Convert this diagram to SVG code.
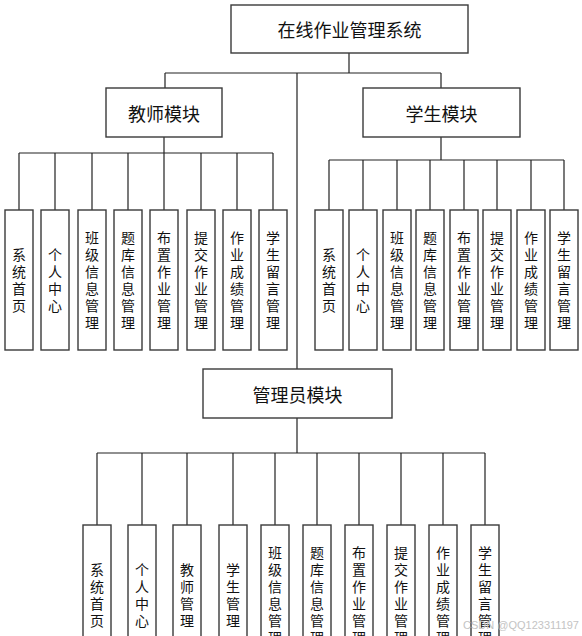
<svg xmlns="http://www.w3.org/2000/svg" width="582" height="636" viewBox="0 0 582 636">
<style>
.box{fill:#fff;stroke:#3a3a3a;stroke-width:1.4}
.ln{fill:none;stroke:#222;stroke-width:1.2}
.t{font-family:"Noto Sans CJK SC","Liberation Sans",sans-serif;fill:#111;text-anchor:middle;dominant-baseline:central}
.big{font-size:18px}
.sm{font-size:14px}
.wm{font-family:"Liberation Sans",sans-serif;font-size:11px;fill:#c4c4c4;text-anchor:end}
</style>
<rect width="582" height="636" fill="#fff"/>
<g id="connectors">
<path class="ln" d="M349 53V73M165 73H441M165 73V88M441 73V88M297 73V369"/>
<path class="ln" d="M164 137V153M19 153H273M19 153V210M55 153V210M92 153V210M128 153V210M164 153V210M201 153V210M237 153V210M273 153V210"/>
<path class="ln" d="M441 137V160M329 160H564M329 160V210M363 160V210M397 160V210M430 160V210M464 160V210M497 160V210M531 160V210M564 160V210"/>
<path class="ln" d="M297 418V453M97 453H485M97 453V525M142 453V525M187 453V525M233 453V525M275 453V525M317 453V525M359 453V525M401 453V525M443 453V525M485 453V525"/>
</g>
<g id="root"><rect class="box" x="231" y="5" width="237" height="48"/><text class="t big" x="349.5" y="29">在线作业管理系统</text></g>
<g id="teacher"><rect class="box" x="106" y="88" width="116" height="49"/><text class="t big" x="164" y="112.5">教师模块</text></g>
<g id="student"><rect class="box" x="363" y="88" width="157" height="49"/><text class="t big" x="441.5" y="112.5">学生模块</text></g>
<g id="admin"><rect class="box" x="203" y="369" width="189" height="49"/><text class="t big" x="297.5" y="393.5">管理员模块</text></g>

<g id="t1"><rect class="box" x="5" y="210" width="28" height="140"/><text class="t sm"><tspan x="19" y="253.5">系</tspan><tspan x="19" y="270.5">统</tspan><tspan x="19" y="287.5">首</tspan><tspan x="19" y="304.5">页</tspan></text></g>
<g id="t2"><rect class="box" x="41" y="210" width="28" height="140"/><text class="t sm"><tspan x="55" y="253.5">个</tspan><tspan x="55" y="270.5">人</tspan><tspan x="55" y="287.5">中</tspan><tspan x="55" y="304.5">心</tspan></text></g>
<g id="t3"><rect class="box" x="78" y="210" width="28" height="140"/><text class="t sm"><tspan x="92" y="236.5">班</tspan><tspan x="92" y="253.5">级</tspan><tspan x="92" y="270.5">信</tspan><tspan x="92" y="287.5">息</tspan><tspan x="92" y="304.5">管</tspan><tspan x="92" y="321.5">理</tspan></text></g>
<g id="t4"><rect class="box" x="114" y="210" width="28" height="140"/><text class="t sm"><tspan x="128" y="236.5">题</tspan><tspan x="128" y="253.5">库</tspan><tspan x="128" y="270.5">信</tspan><tspan x="128" y="287.5">息</tspan><tspan x="128" y="304.5">管</tspan><tspan x="128" y="321.5">理</tspan></text></g>
<g id="t5"><rect class="box" x="150" y="210" width="28" height="140"/><text class="t sm"><tspan x="164" y="236.5">布</tspan><tspan x="164" y="253.5">置</tspan><tspan x="164" y="270.5">作</tspan><tspan x="164" y="287.5">业</tspan><tspan x="164" y="304.5">管</tspan><tspan x="164" y="321.5">理</tspan></text></g>
<g id="t6"><rect class="box" x="187" y="210" width="28" height="140"/><text class="t sm"><tspan x="201" y="236.5">提</tspan><tspan x="201" y="253.5">交</tspan><tspan x="201" y="270.5">作</tspan><tspan x="201" y="287.5">业</tspan><tspan x="201" y="304.5">管</tspan><tspan x="201" y="321.5">理</tspan></text></g>
<g id="t7"><rect class="box" x="223" y="210" width="28" height="140"/><text class="t sm"><tspan x="237" y="236.5">作</tspan><tspan x="237" y="253.5">业</tspan><tspan x="237" y="270.5">成</tspan><tspan x="237" y="287.5">绩</tspan><tspan x="237" y="304.5">管</tspan><tspan x="237" y="321.5">理</tspan></text></g>
<g id="t8"><rect class="box" x="259" y="210" width="28" height="140"/><text class="t sm"><tspan x="273" y="236.5">学</tspan><tspan x="273" y="253.5">生</tspan><tspan x="273" y="270.5">留</tspan><tspan x="273" y="287.5">言</tspan><tspan x="273" y="304.5">管</tspan><tspan x="273" y="321.5">理</tspan></text></g>

<g id="s1"><rect class="box" x="315" y="210" width="28" height="140"/><text class="t sm"><tspan x="329" y="253.5">系</tspan><tspan x="329" y="270.5">统</tspan><tspan x="329" y="287.5">首</tspan><tspan x="329" y="304.5">页</tspan></text></g>
<g id="s2"><rect class="box" x="349" y="210" width="28" height="140"/><text class="t sm"><tspan x="363" y="253.5">个</tspan><tspan x="363" y="270.5">人</tspan><tspan x="363" y="287.5">中</tspan><tspan x="363" y="304.5">心</tspan></text></g>
<g id="s3"><rect class="box" x="383" y="210" width="28" height="140"/><text class="t sm"><tspan x="397" y="236.5">班</tspan><tspan x="397" y="253.5">级</tspan><tspan x="397" y="270.5">信</tspan><tspan x="397" y="287.5">息</tspan><tspan x="397" y="304.5">管</tspan><tspan x="397" y="321.5">理</tspan></text></g>
<g id="s4"><rect class="box" x="416" y="210" width="28" height="140"/><text class="t sm"><tspan x="430" y="236.5">题</tspan><tspan x="430" y="253.5">库</tspan><tspan x="430" y="270.5">信</tspan><tspan x="430" y="287.5">息</tspan><tspan x="430" y="304.5">管</tspan><tspan x="430" y="321.5">理</tspan></text></g>
<g id="s5"><rect class="box" x="450" y="210" width="28" height="140"/><text class="t sm"><tspan x="464" y="236.5">布</tspan><tspan x="464" y="253.5">置</tspan><tspan x="464" y="270.5">作</tspan><tspan x="464" y="287.5">业</tspan><tspan x="464" y="304.5">管</tspan><tspan x="464" y="321.5">理</tspan></text></g>
<g id="s6"><rect class="box" x="483" y="210" width="28" height="140"/><text class="t sm"><tspan x="497" y="236.5">提</tspan><tspan x="497" y="253.5">交</tspan><tspan x="497" y="270.5">作</tspan><tspan x="497" y="287.5">业</tspan><tspan x="497" y="304.5">管</tspan><tspan x="497" y="321.5">理</tspan></text></g>
<g id="s7"><rect class="box" x="517" y="210" width="28" height="140"/><text class="t sm"><tspan x="531" y="236.5">作</tspan><tspan x="531" y="253.5">业</tspan><tspan x="531" y="270.5">成</tspan><tspan x="531" y="287.5">绩</tspan><tspan x="531" y="304.5">管</tspan><tspan x="531" y="321.5">理</tspan></text></g>
<g id="s8"><rect class="box" x="550" y="210" width="28" height="140"/><text class="t sm"><tspan x="564" y="236.5">学</tspan><tspan x="564" y="253.5">生</tspan><tspan x="564" y="270.5">留</tspan><tspan x="564" y="287.5">言</tspan><tspan x="564" y="304.5">管</tspan><tspan x="564" y="321.5">理</tspan></text></g>

<g id="a1"><rect class="box" x="83" y="525" width="28" height="140"/><text class="t sm"><tspan x="97" y="569">系</tspan><tspan x="97" y="586">统</tspan><tspan x="97" y="603">首</tspan><tspan x="97" y="620">页</tspan></text></g>
<g id="a2"><rect class="box" x="128" y="525" width="28" height="140"/><text class="t sm"><tspan x="142" y="569">个</tspan><tspan x="142" y="586">人</tspan><tspan x="142" y="603">中</tspan><tspan x="142" y="620">心</tspan></text></g>
<g id="a3"><rect class="box" x="173" y="525" width="28" height="140"/><text class="t sm"><tspan x="187" y="569">教</tspan><tspan x="187" y="586">师</tspan><tspan x="187" y="603">管</tspan><tspan x="187" y="620">理</tspan></text></g>
<g id="a4"><rect class="box" x="219" y="525" width="28" height="140"/><text class="t sm"><tspan x="233" y="569">学</tspan><tspan x="233" y="586">生</tspan><tspan x="233" y="603">管</tspan><tspan x="233" y="620">理</tspan></text></g>
<g id="a5"><rect class="box" x="261" y="525" width="28" height="140"/><text class="t sm"><tspan x="275" y="552">班</tspan><tspan x="275" y="569">级</tspan><tspan x="275" y="586">信</tspan><tspan x="275" y="603">息</tspan><tspan x="275" y="620">管</tspan><tspan x="275" y="637">理</tspan></text></g>
<g id="a6"><rect class="box" x="303" y="525" width="28" height="140"/><text class="t sm"><tspan x="317" y="552">题</tspan><tspan x="317" y="569">库</tspan><tspan x="317" y="586">信</tspan><tspan x="317" y="603">息</tspan><tspan x="317" y="620">管</tspan><tspan x="317" y="637">理</tspan></text></g>
<g id="a7"><rect class="box" x="345" y="525" width="28" height="140"/><text class="t sm"><tspan x="359" y="552">布</tspan><tspan x="359" y="569">置</tspan><tspan x="359" y="586">作</tspan><tspan x="359" y="603">业</tspan><tspan x="359" y="620">管</tspan><tspan x="359" y="637">理</tspan></text></g>
<g id="a8"><rect class="box" x="387" y="525" width="28" height="140"/><text class="t sm"><tspan x="401" y="552">提</tspan><tspan x="401" y="569">交</tspan><tspan x="401" y="586">作</tspan><tspan x="401" y="603">业</tspan><tspan x="401" y="620">管</tspan><tspan x="401" y="637">理</tspan></text></g>
<g id="a9"><rect class="box" x="429" y="525" width="28" height="140"/><text class="t sm"><tspan x="443" y="552">作</tspan><tspan x="443" y="569">业</tspan><tspan x="443" y="586">成</tspan><tspan x="443" y="603">绩</tspan><tspan x="443" y="620">管</tspan><tspan x="443" y="637">理</tspan></text></g>
<g id="a10"><rect class="box" x="471" y="525" width="28" height="140"/><text class="t sm"><tspan x="485" y="552">学</tspan><tspan x="485" y="569">生</tspan><tspan x="485" y="586">留</tspan><tspan x="485" y="603">言</tspan><tspan x="485" y="620">管</tspan><tspan x="485" y="637">理</tspan></text></g>

<text class="wm" x="579" y="629">CSDN @QQ123311197</text>
</svg>
